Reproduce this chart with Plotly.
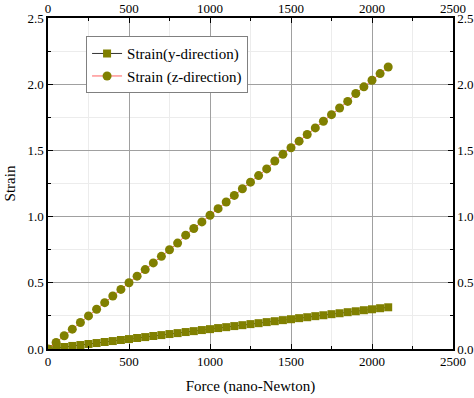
import plotly.graph_objects as go

force = [0, 50, 100, 150, 200, 250, 300, 350, 400, 450, 500, 550, 600, 650, 700, 750, 800,
         850, 900, 950, 1000, 1050, 1100, 1150, 1200, 1250, 1300, 1350, 1400, 1450, 1500,
         1550, 1600, 1650, 1700, 1750, 1800, 1850, 1900, 1950, 2000, 2050, 2100]
strain_z = [0.00, 0.05, 0.10, 0.15, 0.20, 0.25, 0.30, 0.35, 0.40, 0.45, 0.50, 0.55, 0.60,
            0.65, 0.70, 0.75, 0.80, 0.86, 0.91, 0.96, 1.01, 1.06, 1.11, 1.16, 1.21, 1.26,
            1.31, 1.36, 1.42, 1.47, 1.52, 1.57, 1.62, 1.67, 1.72, 1.77, 1.82, 1.87, 1.93,
            1.98, 2.03, 2.08, 2.13]
strain_y = [0.000, 0.008, 0.015, 0.023, 0.030, 0.038, 0.045, 0.053, 0.060, 0.068, 0.075,
            0.083, 0.090, 0.098, 0.105, 0.113, 0.120, 0.128, 0.135, 0.143, 0.150, 0.158,
            0.165, 0.173, 0.180, 0.188, 0.195, 0.203, 0.210, 0.218, 0.225, 0.233, 0.240,
            0.248, 0.255, 0.263, 0.270, 0.278, 0.285, 0.293, 0.300, 0.308, 0.315]
tick_vals_x = [0, 500, 1000, 1500, 2000, 2500]
tick_vals_y = [0.0, 0.5, 1.0, 1.5, 2.0, 2.5]
tick_text_y = ["0.0", "0.5", "1.0", "1.5", "2.0", "2.5"]

OLIVE = "#808000"
FONT = "Liberation Serif"

fig = go.Figure()
fig.add_trace(go.Scatter(x=force, y=strain_y, mode="lines+markers", name="Strain(y-direction)",
                         line=dict(color="#333333", width=1),
                         marker=dict(symbol="square", size=8, color=OLIVE)))
fig.add_trace(go.Scatter(x=force, y=strain_z, mode="lines+markers", name="Strain (z-direction)",
                         line=dict(color="#ff6060", width=1),
                         marker=dict(symbol="circle", size=9, color=OLIVE)))
# invisible trace to anchor the mirrored axes
fig.add_trace(go.Scatter(x=[0], y=[0], xaxis="x2", yaxis="y2", mode="markers",
                         marker=dict(opacity=0), showlegend=False, hoverinfo="skip"))

axis_common = dict(showline=True, linecolor="black", linewidth=1.5, ticks="inside",
                   ticklen=5, tickcolor="black", zeroline=False, automargin=False,
                   tickfont=dict(family=FONT, size=13, color="black"))

fig.update_layout(
    width=474, height=398,
    margin=dict(l=48, r=21, t=18, b=49),
    paper_bgcolor="white", plot_bgcolor="white",
    font=dict(family=FONT, size=14, color="black"),
    xaxis=dict(range=[0, 2500], tickvals=tick_vals_x, showgrid=True, gridcolor="#a0a0a0",
               gridwidth=1,
               minor=dict(dtick=250, showgrid=True, gridcolor="#ececec", ticks="inside",
                          ticklen=3, tickcolor="black"),
               title=dict(text="Force (nano-Newton)", font=dict(family=FONT, size=15), standoff=12),
               **axis_common),
    yaxis=dict(range=[0, 2.5], tickvals=tick_vals_y, ticktext=tick_text_y, showgrid=True,
               gridcolor="#a0a0a0", gridwidth=1,
               minor=dict(dtick=0.25, showgrid=True, gridcolor="#ececec", ticks="inside",
                          ticklen=3, tickcolor="black"),
               title=dict(text="Strain", font=dict(family=FONT, size=15), standoff=8),
               **axis_common),
    xaxis2=dict(range=[0, 2500], tickvals=tick_vals_x, overlaying="x", side="top",
                showgrid=False, ticklabelstandoff=-2,
                minor=dict(dtick=250, ticks="inside", ticklen=3, tickcolor="black"),
                **axis_common),
    yaxis2=dict(range=[0, 2.5], tickvals=tick_vals_y, ticktext=tick_text_y, overlaying="y",
                side="right", showgrid=False,
                minor=dict(dtick=0.25, ticks="inside", ticklen=3, tickcolor="black"),
                **axis_common),
    legend=dict(x=0.094, y=0.945, xanchor="left", yanchor="top", bgcolor="white",
                bordercolor="#808080", borderwidth=1,
                font=dict(family=FONT, size=15), tracegroupgap=0),
    showlegend=True,
)

fig.write_html("out.html", config={"displayModeBar": False},
               post_script="document.body.style.margin='0';")
